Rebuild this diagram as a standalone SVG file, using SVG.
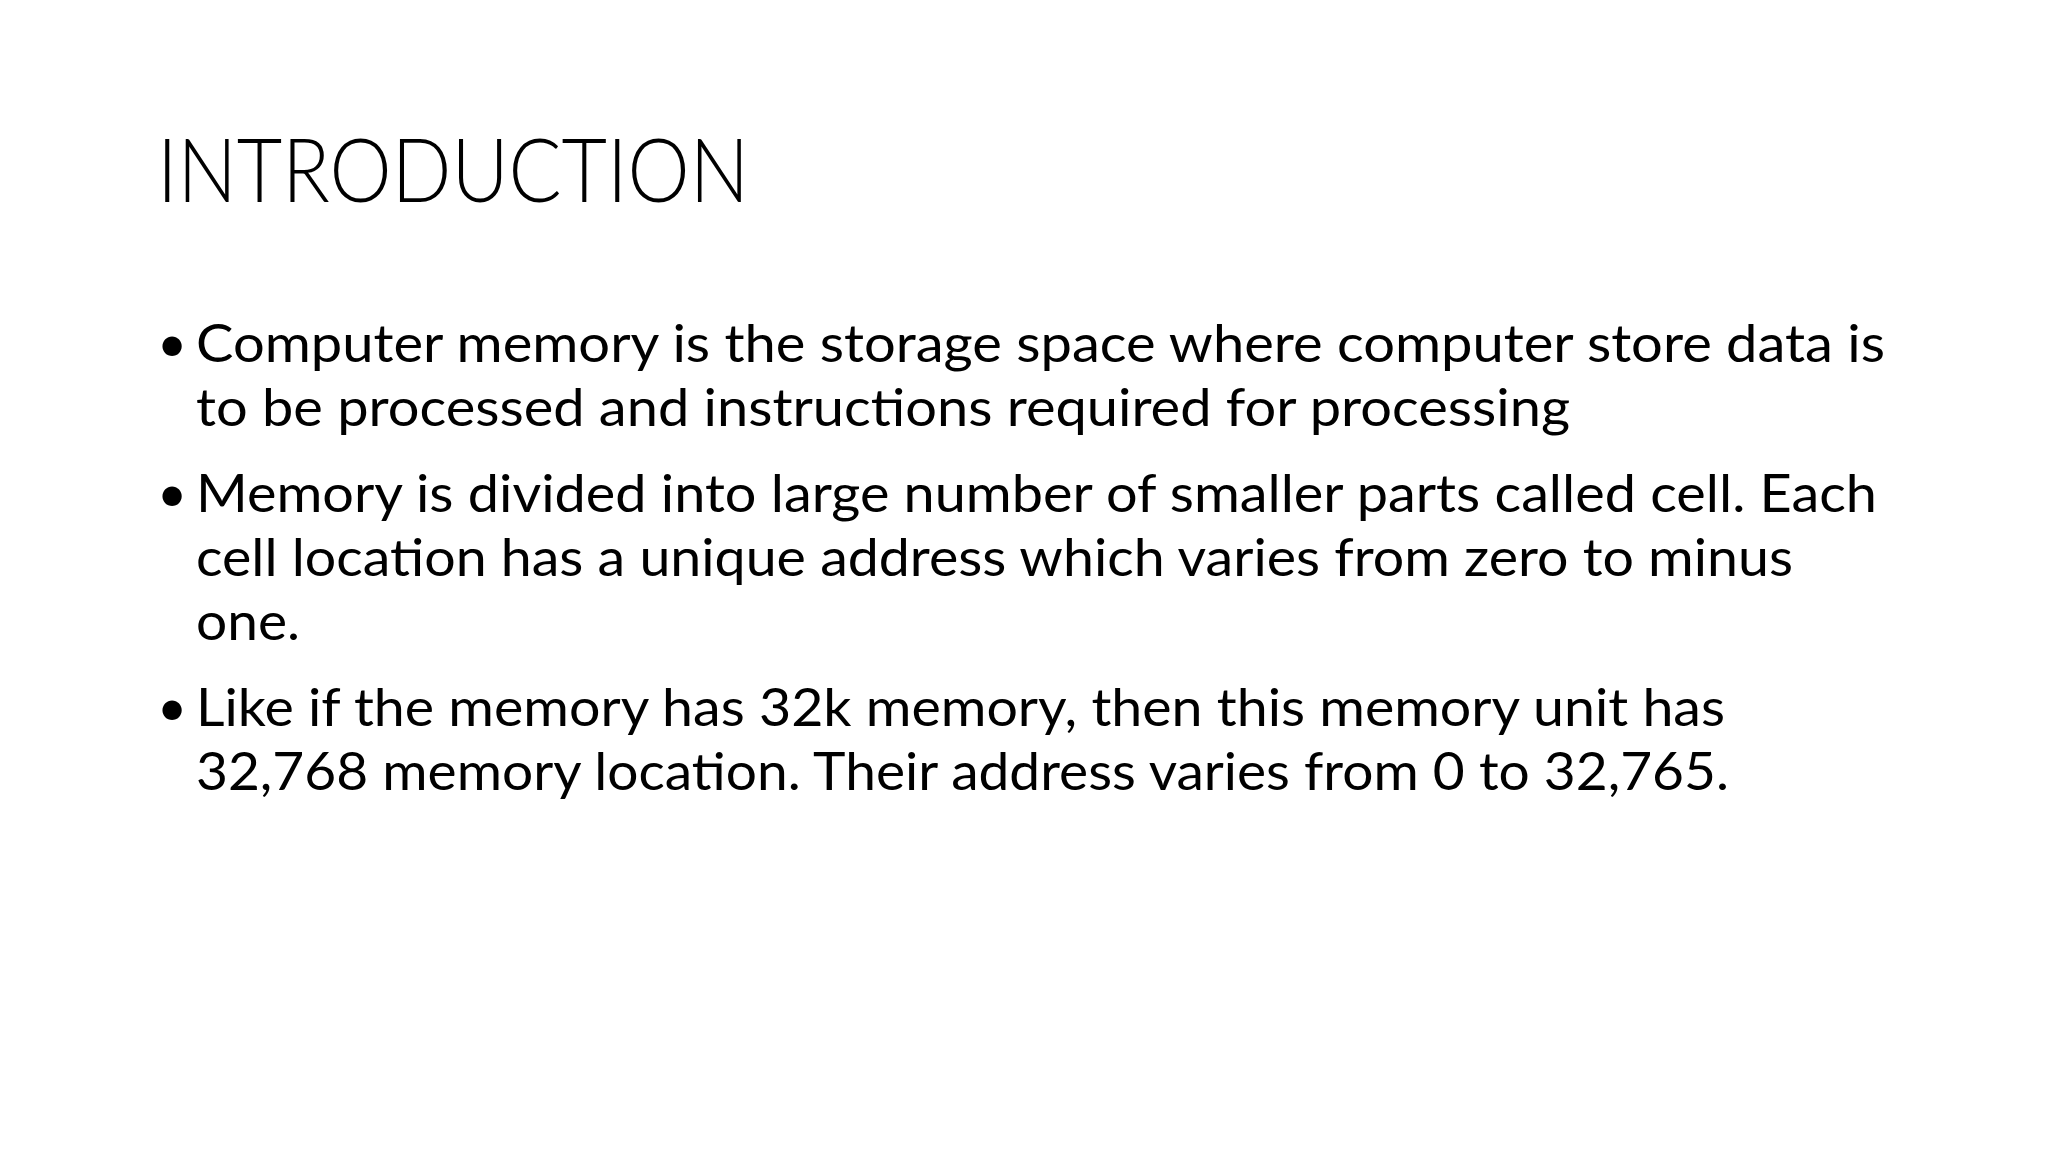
<svg xmlns="http://www.w3.org/2000/svg" width="2048" height="1152" viewBox="0 0 2048 1152">
<style>
.t{font-family:Lato,"Open Sans","Liberation Sans",sans-serif;font-size:52px;fill:#000}
.h{font-family:Lato,"Open Sans","Liberation Sans",sans-serif;font-weight:300;font-size:88px;fill:#000}
</style>
<rect width="2048" height="1152" fill="#fff"/>
<text class="h" x="157" y="202" textLength="592" lengthAdjust="spacingAndGlyphs">INTRODUCTION</text>
<g id="b1">
<text class="t" x="157" y="362">•</text>
<text class="t" x="196" y="362" textLength="1689" lengthAdjust="spacingAndGlyphs">Computer memory is the storage space where computer store data  is</text>
<text class="t" x="196" y="426" textLength="1374" lengthAdjust="spacingAndGlyphs">to be processed  and instructions required for processing</text>
</g>
<g id="b2">
<text class="t" x="157" y="512">•</text>
<text class="t" x="196" y="512" textLength="1681" lengthAdjust="spacingAndGlyphs">Memory is divided into large number of smaller parts called cell. Each</text>
<text class="t" x="196" y="576" textLength="1597" lengthAdjust="spacingAndGlyphs">cell location has a unique address which varies from zero to minus</text>
<text class="t" x="196" y="640" textLength="104" lengthAdjust="spacingAndGlyphs">one.</text>
</g>
<g id="b3">
<text class="t" x="157" y="726">•</text>
<text class="t" x="196" y="726" textLength="1529" lengthAdjust="spacingAndGlyphs">Like if the memory has 32k memory, then this memory unit has</text>
<text class="t" x="196" y="790" textLength="1533" lengthAdjust="spacingAndGlyphs">32,768 memory location. Their address varies from 0 to 32,765.</text>
</g>
</svg>
